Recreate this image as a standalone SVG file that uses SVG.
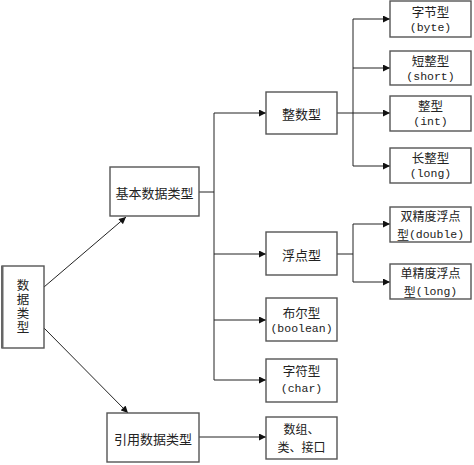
<svg xmlns="http://www.w3.org/2000/svg" width="474" height="465" viewBox="0 0 474 465">
<defs>
<marker id="ah" viewBox="0 0 10 10" refX="10" refY="5" markerWidth="8" markerHeight="7" markerUnits="userSpaceOnUse" orient="auto">
<path d="M0,0 L10,5 L0,10 z" fill="#111"/>
</marker>
<style>
.box{fill:#fff;stroke:#555;stroke-width:1.4}
.t{font-family:"Noto Sans CJK SC","Noto Sans",sans-serif;font-size:13px;fill:#222;text-anchor:middle;dominant-baseline:central}
.s{font-size:12.5px}
.x{font-size:12px}
.m{font-family:"Liberation Mono","Noto Sans CJK SC",monospace;font-size:11.5px}
.v{writing-mode:vertical-rl;font-size:12.5px;letter-spacing:1.5px}
.c{fill:none;stroke:#222;stroke-width:1}
.a{marker-end:url(#ah)}
</style>
</defs>
<rect width="474" height="465" fill="#fff"/>
<g id="connectors">
<line class="c a" x1="44" y1="287" x2="126" y2="217"/>
<line class="c a" x1="44" y1="328" x2="128" y2="413"/>
<polyline class="c" points="199,192 214,192"/>
<line class="c" x1="214" y1="113" x2="214" y2="380"/>
<line class="c a" x1="214" y1="113" x2="266" y2="113"/>
<line class="c a" x1="214" y1="254" x2="266" y2="254"/>
<line class="c a" x1="214" y1="320" x2="266" y2="320"/>
<line class="c a" x1="214" y1="380" x2="266" y2="380"/>
<line class="c a" x1="199" y1="437" x2="266" y2="437"/>
<line class="c" x1="337" y1="113" x2="353" y2="113"/>
<line class="c" x1="353" y1="19" x2="353" y2="166"/>
<line class="c a" x1="353" y1="19" x2="390" y2="19"/>
<line class="c a" x1="353" y1="68" x2="390" y2="68"/>
<line class="c a" x1="353" y1="113" x2="390" y2="113"/>
<line class="c a" x1="353" y1="166" x2="390" y2="166"/>
<line class="c" x1="337" y1="254" x2="353" y2="254"/>
<line class="c" x1="353" y1="224" x2="353" y2="282"/>
<line class="c a" x1="353" y1="224" x2="390" y2="224"/>
<line class="c a" x1="353" y1="282" x2="390" y2="282"/>
</g>
<g id="n-root">
<rect class="box" x="2" y="266" width="42" height="82"/>
<rect x="1" y="266" width="2.5" height="82" fill="#666"/>
<text class="t v" x="23" y="307">数据类型</text>
</g>
<g id="n-basic">
<rect class="box" x="110" y="167" width="89" height="49"/>
<text class="t" x="154.5" y="192">基本数据类型</text>
</g>
<g id="n-ref">
<rect class="box" x="107" y="413" width="92" height="49"/>
<text class="t" x="153" y="438">引用数据类型</text>
</g>
<g id="n-int">
<rect class="box" x="266" y="92" width="71" height="42"/>
<text class="t" x="301.5" y="113">整数型</text>
</g>
<g id="n-float">
<rect class="box" x="266" y="232" width="71" height="43"/>
<text class="t" x="301.5" y="254">浮点型</text>
</g>
<g id="n-bool">
<rect class="box" x="266" y="298" width="71" height="43"/>
<text class="t s" x="301.5" y="312">布尔型<tspan class="m" x="301.5" y="328">(boolean)</tspan></text>
</g>
<g id="n-char">
<rect class="box" x="266" y="359" width="71" height="43"/>
<text class="t s" x="301.5" y="370">字符型<tspan class="m" x="301.5" y="388">(char)</tspan></text>
</g>
<g id="n-array">
<rect class="box" x="266" y="417" width="71" height="42"/>
<text class="t x" x="301.5" y="428">数组、<tspan x="301.5" y="446">类、接口</tspan></text>
</g>
<g id="n-byte">
<rect class="box" x="390" y="1" width="81" height="36"/>
<text class="t s" x="430.5" y="11">字节型<tspan class="m" x="430.5" y="27">(byte)</tspan></text>
</g>
<g id="n-short">
<rect class="box" x="390" y="51" width="81" height="34"/>
<text class="t s" x="430.5" y="60">短整型<tspan class="m" x="430.5" y="76">(short)</tspan></text>
</g>
<g id="n-intt">
<rect class="box" x="390" y="96" width="81" height="35"/>
<text class="t s" x="430.5" y="105">整型<tspan class="m" x="430.5" y="121">(int)</tspan></text>
</g>
<g id="n-long">
<rect class="box" x="390" y="148" width="81" height="35"/>
<text class="t s" x="430.5" y="157">长整型<tspan class="m" x="430.5" y="173">(long)</tspan></text>
</g>
<g id="n-double">
<rect class="box" x="390" y="207" width="81" height="35"/>
<text class="t x" x="430.5" y="215.5">双精度浮点<tspan x="430.5" y="233.5">型<tspan class="m">(double)</tspan></tspan></text>
</g>
<g id="n-single">
<rect class="box" x="390" y="264" width="81" height="35"/>
<text class="t x" x="430.5" y="272.5">单精度浮点<tspan x="430.5" y="290.5">型<tspan class="m">(long)</tspan></tspan></text>
</g>
</svg>
